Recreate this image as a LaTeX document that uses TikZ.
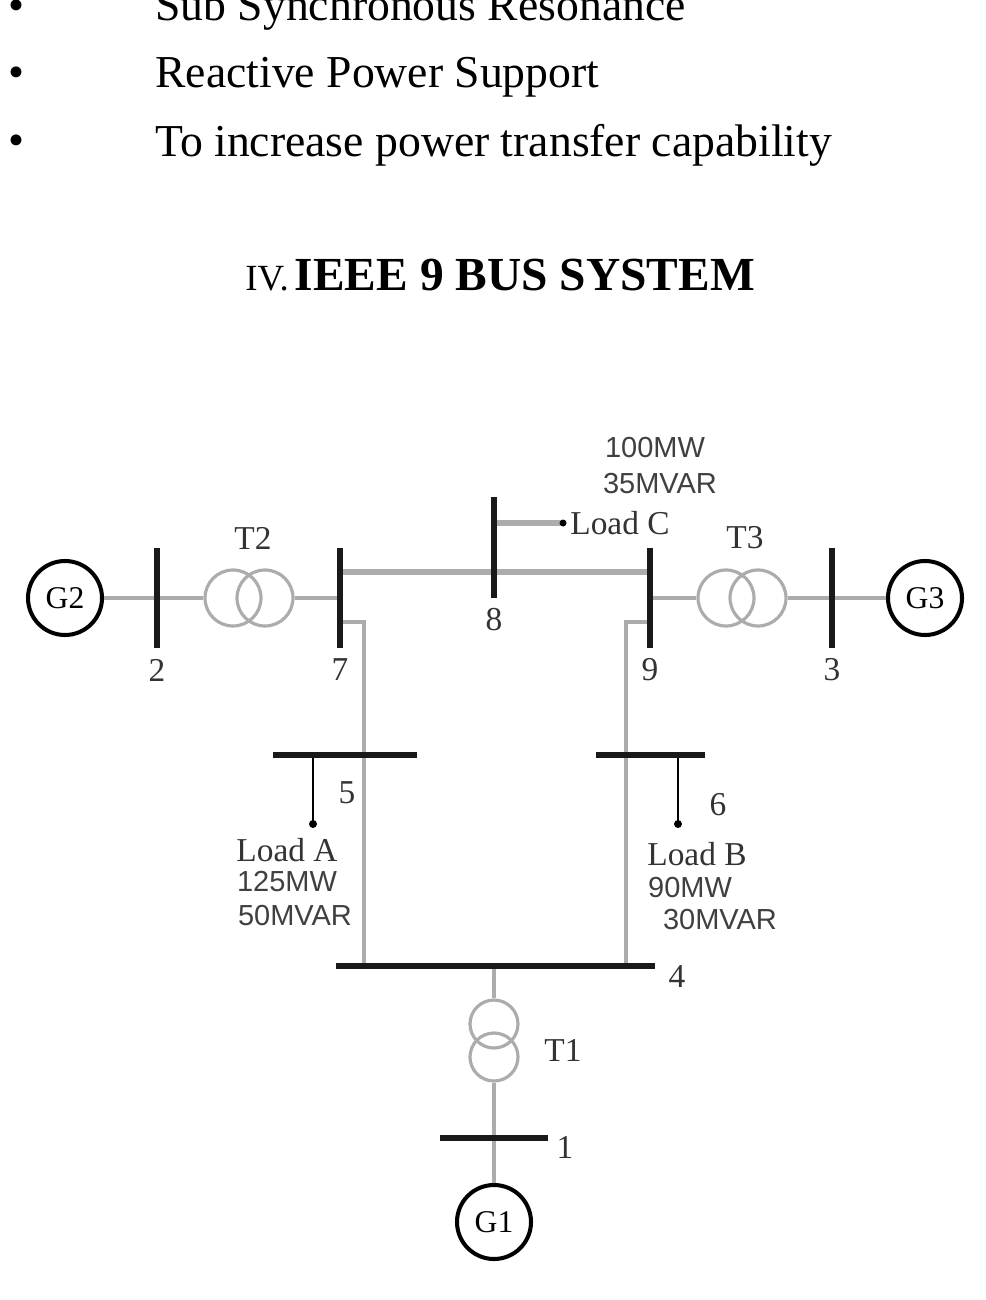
\documentclass[tikz,border=0pt]{standalone}
\usepackage{fontspec}
\setmainfont{Liberation Serif}
\newfontfamily\lab{Liberation Sans}
\begin{document}
\begin{tikzpicture}[x=0.02cm,y=-0.02cm,
  bus/.style={line width=3.6pt,black!90},
  wire/.style={line width=2pt,gray!65},
  gen/.style={circle,draw,line width=2.3pt,minimum size=74*0.02cm,inner sep=0pt,font=\rmfamily\fontsize{18}{18}\selectfont},
  tr/.style={circle,draw=gray!65,line width=1.8pt,minimum size=56*0.02cm,inner sep=0pt},
  trv/.style={circle,draw=gray!65,line width=1.8pt,minimum size=48*0.02cm,inner sep=0pt},
  lb/.style={font=\lab\fontsize{16.5}{16.5}\selectfont,text=black!75,inner sep=0pt},
  num/.style={font=\rmfamily\fontsize{19}{19}\selectfont,inner sep=0pt,text=black!80},
  txt/.style={font=\fontsize{26}{30}\selectfont,anchor=west,inner sep=0pt}]
\useasboundingbox (0,0) rectangle (985,1300);
\fill[white] (0,0) rectangle (985,1300);
% bullets
\node[txt] (b1) at (8,10) {•};\node[txt] (t1) at (155,10) {Sub Synchronous Resonance};
\node[txt] (b2) at (8,77) {•};\node[txt] (t2) at (155,77) {Reactive Power Support};
\node[txt] (b3) at (8,145) {•};\node[txt] (t3) at (155,145) {To increase power transfer capability};
\node[inner sep=0pt,anchor=west] (hd) at (245,275) {\fontsize{21}{24}\selectfont IV.\,\fontsize{27}{30}\selectfont\bfseries IEEE 9 BUS SYSTEM};
% generators
\node[gen] (G2) at (65,598) {G2};
\node[gen] (G3) at (925,598) {G3};
\node[gen] (G1) at (494,1222) {G1};
% transformers
\node[tr] (T2a) at (233,598) {};\node[tr] (T2b) at (265,598) {};
\node[tr] (T3a) at (726,598) {};\node[tr] (T3b) at (758,598) {};
\node[trv] (T1a) at (494,1024) {};\node[trv] (T1b) at (494,1057) {};
% wires
\draw[wire] (G2) -- (157,598) -- (T2a);
\draw[wire] (T2b) -- (340,598);
\draw[wire] (650,598) -- (T3a);
\draw[wire] (T3b) -- (832,598) -- (G3);
\draw[wire,line width=3pt] (340,572) -- (650,572);
\draw[wire,line width=3pt] (494,523) -- (560,523);
\fill (563,523) circle (3.5);
\draw[wire] (340,622) -- (364,622) -- (364,966);
\draw[wire] (650,622) -- (626,622) -- (626,966);
\draw[wire] (494,966) -- (T1a);
\draw[wire] (T1b) -- (494,1138) -- (G1);
\draw[line width=1.4pt] (313,755) -- (313,822);\fill (313,824) circle (4);
\draw[line width=1.4pt] (678,755) -- (678,822);\fill (678,824) circle (4);
% buses
\draw[bus] (157,548) -- (157,648);
\draw[bus] (340,548) -- (340,648);
\draw[bus] (494,497) -- (494,598);
\draw[bus] (650,548) -- (650,648);
\draw[bus] (832,548) -- (832,648);
\draw[bus] (273,755) -- (417,755);
\draw[bus] (596,755) -- (705,755);
\draw[bus] (336,966) -- (655,966);
\draw[bus] (440,1138) -- (548,1138);
% labels
\node[num] (n2) at (157,670) {2};\node[num] (n7) at (340,670) {7};
\node[num] (n8) at (494,620) {8};\node[num] (n9) at (650,670) {9};
\node[num] (n3) at (832,670) {3};\node[num] (n5) at (347,793) {5};
\node[num] (n6) at (718,805) {6};\node[num] (n4) at (677,977) {4};
\node[num] (n1) at (565,1147) {1};
\node[num] (lT2) at (253,538) {T2};\node[num] (lT3) at (745,538) {T3};
\node[num] (lT1) at (563,1050) {T1};
\node[num,anchor=west] (lc) at (570,523) {Load C};
\node[lb] (c1) at (655,448) {100MW};\node[lb] (c2) at (660,484) {35MVAR};
\node[num] (la) at (287,850) {Load A};
\node[lb] (a1) at (287,882) {125MW};\node[lb] (a2) at (295,916) {50MVAR};
\node[num] (lbb) at (697,854) {Load B};
\node[lb] (b1x) at (690,888) {90MW};\node[lb] (b2x) at (720,920) {30MVAR};
\end{tikzpicture}
\end{document}
